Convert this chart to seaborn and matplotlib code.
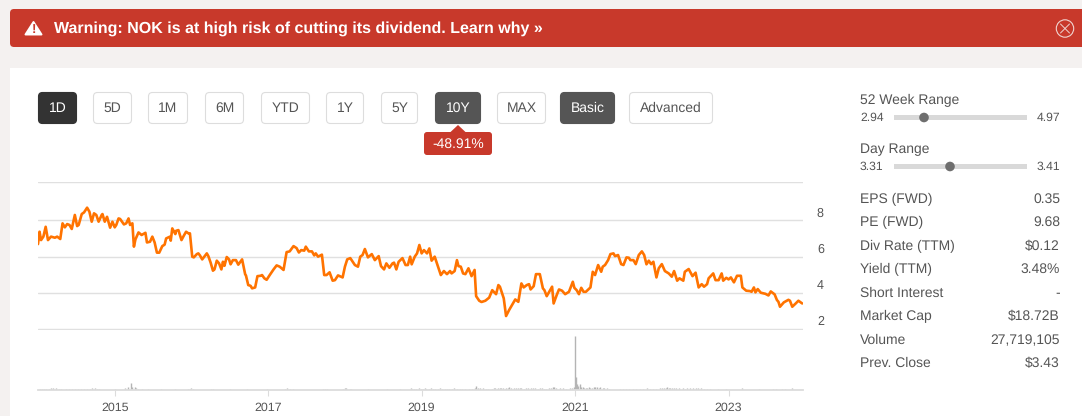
import matplotlib
matplotlib.use('Agg')
import matplotlib.pyplot as plt
from matplotlib.patches import FancyBboxPatch, Polygon, Circle, Rectangle
import seaborn as sns

sns.set_theme(style='white')
plt.rcParams['font.family'] = ['Liberation Sans', 'DejaVu Sans']
plt.rcParams['text.hinting'] = 'no_hinting'

# Precio NOK, lectura aproximada del grafico
price_years = [
    2014.00, 2014.02, 2014.04, 2014.07, 2014.10, 2014.13, 2014.17, 2014.22, 2014.25, 2014.29, 2014.32, 2014.35,
    2014.38, 2014.41, 2014.44, 2014.48, 2014.51, 2014.53, 2014.57, 2014.60, 2014.64, 2014.67, 2014.70, 2014.73,
    2014.76, 2014.79, 2014.83, 2014.84, 2014.87, 2014.90, 2014.94, 2014.97, 2015.00, 2015.02, 2015.05, 2015.07,
    2015.12, 2015.15, 2015.18, 2015.20, 2015.23, 2015.25, 2015.27, 2015.31, 2015.35, 2015.40, 2015.42, 2015.46,
    2015.49, 2015.52, 2015.55, 2015.58, 2015.62, 2015.65, 2015.67, 2015.72, 2015.73, 2015.75, 2015.79, 2015.80,
    2015.83, 2015.87, 2015.90, 2015.93, 2015.96, 2015.98, 2016.01, 2016.03, 2016.07, 2016.09, 2016.11, 2016.14,
    2016.20, 2016.22, 2016.25, 2016.28, 2016.30, 2016.33, 2016.36, 2016.39, 2016.41, 2016.43, 2016.46, 2016.49,
    2016.51, 2016.54, 2016.58, 2016.61, 2016.66, 2016.70, 2016.71, 2016.74, 2016.77, 2016.79, 2016.83, 2016.86,
    2016.90, 2016.92, 2016.95, 2016.98, 2017.02, 2017.07, 2017.11, 2017.15, 2017.20, 2017.24, 2017.28, 2017.33,
    2017.37, 2017.40, 2017.43, 2017.47, 2017.49, 2017.53, 2017.57, 2017.60, 2017.62, 2017.65, 2017.70, 2017.73,
    2017.76, 2017.80, 2017.84, 2017.87, 2017.91, 2017.97, 2018.00, 2018.03, 2018.07, 2018.13, 2018.17, 2018.20,
    2018.23, 2018.26, 2018.30, 2018.35, 2018.39, 2018.44, 2018.47, 2018.51, 2018.54, 2018.58, 2018.62, 2018.64,
    2018.67, 2018.70, 2018.75, 2018.79, 2018.82, 2018.85, 2018.87, 2018.91, 2018.94, 2018.97, 2019.00, 2019.03,
    2019.07, 2019.10, 2019.13, 2019.17, 2019.22, 2019.25, 2019.29, 2019.33, 2019.37, 2019.39, 2019.43, 2019.46,
    2019.48, 2019.51, 2019.54, 2019.57, 2019.61, 2019.65, 2019.69, 2019.71, 2019.75, 2019.78, 2019.83, 2019.88,
    2019.92, 2019.97, 2020.00, 2020.02, 2020.07, 2020.10, 2020.14, 2020.19, 2020.22, 2020.26, 2020.30, 2020.33,
    2020.37, 2020.40, 2020.42, 2020.46, 2020.49, 2020.54, 2020.58, 2020.60, 2020.63, 2020.70, 2020.72, 2020.76,
    2020.79, 2020.83, 2020.87, 2020.92, 2020.97, 2020.99, 2021.02, 2021.05, 2021.08, 2021.11, 2021.14, 2021.20,
    2021.23, 2021.26, 2021.30, 2021.34, 2021.36, 2021.39, 2021.43, 2021.46, 2021.50, 2021.52, 2021.56, 2021.60,
    2021.63, 2021.67, 2021.70, 2021.72, 2021.76, 2021.79, 2021.83, 2021.87, 2021.90, 2021.93, 2021.96, 2021.99,
    2022.02, 2022.06, 2022.09, 2022.13, 2022.17, 2022.22, 2022.26, 2022.29, 2022.33, 2022.36, 2022.41, 2022.43,
    2022.48, 2022.53, 2022.57, 2022.61, 2022.65, 2022.68, 2022.72, 2022.74, 2022.80, 2022.83, 2022.87, 2022.91,
    2022.93, 2022.97, 2023.00, 2023.03, 2023.07, 2023.11, 2023.16, 2023.18, 2023.23, 2023.28, 2023.30, 2023.33,
    2023.35, 2023.38, 2023.42, 2023.48, 2023.52, 2023.55, 2023.60, 2023.63, 2023.65, 2023.67, 2023.72, 2023.78,
    2023.80, 2023.83, 2023.87, 2023.91, 2023.96,
]
price_values = [
    6.65, 7.33, 6.87, 7.06, 7.60, 6.87, 7.06, 7.00, 7.06, 6.93, 7.79, 7.57,
    7.75, 7.70, 7.48, 8.25, 7.64, 7.70, 8.30, 8.39, 8.65, 8.43, 7.88, 8.34,
    8.25, 7.88, 8.25, 8.30, 7.88, 8.15, 7.55, 7.88, 7.57, 7.70, 8.06, 8.03,
    7.73, 7.79, 8.06, 7.70, 7.79, 6.51, 6.91, 7.29, 7.15, 7.27, 6.74, 6.78,
    7.06, 6.74, 6.18, 6.18, 6.54, 6.62, 6.96, 7.06, 6.84, 7.51, 7.20, 7.38,
    7.42, 6.87, 7.11, 7.33, 7.24, 7.24, 5.96, 5.92, 6.10, 6.14, 6.03, 5.81,
    6.14, 5.99, 5.63, 5.19, 5.26, 5.74, 5.59, 5.26, 5.68, 5.46, 5.94, 5.81,
    5.54, 5.77, 5.77, 5.52, 5.81, 4.99, 4.93, 4.40, 4.36, 4.22, 4.27, 4.89,
    4.91, 4.95, 4.77, 4.69, 4.95, 5.26, 5.48, 5.41, 5.23, 6.21, 6.25, 6.54,
    6.43, 6.19, 6.32, 6.29, 6.51, 6.25, 6.25, 6.03, 6.14, 5.96, 6.07, 4.95,
    4.95, 5.10, 4.64, 4.67, 4.93, 4.82, 5.41, 5.81, 5.88, 5.50, 5.41, 5.96,
    6.05, 6.38, 5.92, 6.10, 5.77, 5.99, 5.44, 5.26, 5.59, 5.35, 5.59, 5.63,
    5.26, 5.68, 5.88, 5.50, 5.50, 5.96, 5.54, 5.96, 6.14, 6.60, 6.14, 6.32,
    6.14, 6.41, 5.74, 5.96, 5.32, 4.95, 5.17, 5.00, 5.17, 5.04, 5.17, 5.77,
    5.44, 5.41, 5.04, 5.00, 5.32, 4.89, 5.23, 3.79, 3.54, 3.47, 3.54, 3.71,
    4.12, 3.90, 4.40, 4.31, 3.67, 2.70, 3.03, 3.39, 3.61, 3.48, 4.49, 4.27,
    4.40, 4.45, 4.16, 4.34, 5.00, 5.00, 4.22, 4.12, 3.79, 4.31, 3.39, 3.85,
    4.16, 4.09, 3.90, 4.03, 4.58, 4.25, 4.12, 3.90, 4.25, 4.03, 4.03, 4.27,
    5.13, 4.95, 5.50, 5.13, 5.41, 5.50, 5.77, 6.10, 6.14, 5.99, 6.05, 5.55,
    5.50, 5.92, 5.90, 5.77, 5.77, 5.55, 6.05, 6.25, 6.05, 5.54, 5.74, 5.55,
    5.68, 4.82, 5.32, 5.55, 5.17, 5.04, 4.86, 5.17, 4.64, 4.77, 4.64, 5.13,
    5.28, 4.89, 5.08, 4.27, 4.45, 4.31, 4.45, 4.77, 5.04, 4.67, 4.67, 5.04,
    4.64, 4.80, 4.71, 4.82, 4.55, 4.91, 4.91, 4.27, 4.09, 4.07, 4.03, 4.27,
    4.00, 4.18, 3.98, 3.92, 3.83, 4.05, 3.89, 3.58, 3.48, 3.21, 3.45, 3.59,
    3.54, 3.21, 3.37, 3.54, 3.39,
]

# Volumen en millones, tambien estimado a ojo
vol_years = [
    2014.02, 2014.05, 2014.08, 2014.11, 2014.14, 2014.17, 2014.20, 2014.24, 2014.27, 2014.30, 2014.36, 2014.40,
    2014.44, 2014.48, 2014.52, 2014.56, 2014.60, 2014.64, 2014.68, 2014.71, 2014.74, 2014.77, 2014.80, 2015.00,
    2015.13, 2015.17, 2015.21, 2015.23, 2015.26, 2015.28, 2015.30, 2015.36, 2015.43, 2015.60, 2015.78, 2015.96,
    2015.98, 2016.00, 2016.02, 2016.26, 2016.28, 2016.50, 2016.72, 2016.98, 2017.22, 2017.24, 2017.28, 2017.32,
    2017.72, 2017.74, 2017.77, 2017.98, 2018.00, 2018.02, 2018.06, 2018.08, 2018.30, 2018.55, 2018.72, 2018.86,
    2018.88, 2018.90, 2018.93, 2018.96, 2018.99, 2019.02, 2019.04, 2019.06, 2019.09, 2019.12, 2019.15, 2019.18,
    2019.21, 2019.24, 2019.27, 2019.30, 2019.33, 2019.36, 2019.39, 2019.42, 2019.46, 2019.50, 2019.53, 2019.56,
    2019.62, 2019.66, 2019.69, 2019.71, 2019.73, 2019.76, 2019.80, 2019.84, 2019.86, 2019.92, 2019.94, 2019.96,
    2019.98, 2020.00, 2020.02, 2020.04, 2020.06, 2020.08, 2020.10, 2020.12, 2020.14, 2020.17, 2020.20, 2020.23,
    2020.26, 2020.28, 2020.30, 2020.33, 2020.36, 2020.39, 2020.42, 2020.45, 2020.48, 2020.51, 2020.54, 2020.57,
    2020.60, 2020.62, 2020.66, 2020.69, 2020.71, 2020.73, 2020.75, 2020.80, 2020.84, 2020.88, 2020.93, 2020.96,
    2020.98, 2021.00, 2021.01, 2021.02, 2021.04, 2021.06, 2021.08, 2021.10, 2021.12, 2021.14, 2021.16, 2021.18,
    2021.20, 2021.22, 2021.24, 2021.26, 2021.29, 2021.31, 2021.33, 2021.36, 2021.38, 2021.41, 2021.44, 2021.58,
    2021.62, 2021.66, 2021.70, 2021.76, 2021.80, 2021.84, 2021.88, 2021.94, 2021.98, 2022.02, 2022.06, 2022.10,
    2022.13, 2022.16, 2022.18, 2022.20, 2022.22, 2022.24, 2022.26, 2022.29, 2022.32, 2022.36, 2022.40, 2022.43,
    2022.46, 2022.50, 2022.54, 2022.57, 2022.60, 2022.64, 2022.68, 2022.72, 2022.76, 2022.86, 2022.97, 2023.18,
    2023.40, 2023.58, 2023.62, 2023.70, 2023.74, 2023.83,
]
vol_values = [
    8, 9, 10, 12, 12, 14, 14, 18, 12, 12, 10, 10,
    9, 10, 10, 9, 9, 10, 12, 14, 20, 12, 8, 10,
    15, 25, 65, 25, 30, 18, 12, 10, 8, 8, 9, 9,
    10, 15, 10, 10, 10, 8, 9, 8, 10, 15, 10, 8,
    8, 10, 8, 12, 18, 14, 10, 10, 8, 8, 8, 14,
    12, 10, 12, 16, 12, 12, 14, 10, 12, 14, 12, 12,
    10, 15, 12, 10, 12, 12, 10, 14, 10, 10, 12, 13,
    10, 12, 16, 40, 20, 18, 14, 12, 10, 12, 14, 18,
    12, 14, 18, 22, 14, 12, 22, 16, 24, 16, 18, 14,
    15, 14, 14, 12, 20, 16, 18, 14, 14, 12, 16, 14,
    10, 10, 14, 20, 30, 24, 22, 16, 14, 10, 18, 20,
    25, 500, 118, 60, 40, 60, 25, 30, 18, 20, 14, 30,
    16, 18, 25, 25, 30, 18, 24, 20, 14, 16, 12, 8,
    8, 9, 9, 10, 10, 12, 10, 14, 12, 12, 12, 14,
    14, 18, 22, 25, 20, 18, 18, 14, 14, 14, 14, 12,
    16, 14, 20, 14, 16, 14, 12, 10, 9, 8, 9, 14,
    8, 9, 8, 8, 8, 15,
]

xtick_years = [2015, 2017, 2019, 2021, 2023]
grid_levels = [2.0, 3.99, 5.96, 7.96, 10.04]
ytick_labels = ['2', '4', '6', '8']

ranges = [('52 Week Range', '2.94', '4.97', 924), ('Day Range', '3.31', '3.41', 950)]
stats = [
    ('EPS (FWD)', '0.35'), ('PE (FWD)', '9.68'), ('Div Rate (TTM)', '$0.12'), ('Yield (TTM)', '3.48%'),
    ('Short Interest', '-'), ('Market Cap', '$18.72B'), ('Volume', '27,719,105'), ('Prev. Close', '$3.43'),
]
buttons = [
    ('1D', 38, 77, '#333333'), ('5D', 93, 132, None), ('1M', 148, 188, None), ('6M', 205, 244, None),
    ('YTD', 261, 310, None), ('1Y', 326, 364, None), ('5Y', 381, 418, None), ('10Y', 435, 481, '#555555'),
    ('MAX', 497, 546, None), ('Basic', 560, 615, '#555555'), ('Advanced', 629, 713, None),
]

RED = '#c8392b'
BG = '#f4f1f0'
TXT = '#555555'
W, H = 1082, 416

fig = plt.figure(figsize=(W / 100, H / 100), dpi=100, facecolor=BG)


def axes_px(x0, x1, y0, y1):
    return fig.add_axes([x0 / W, 1 - y1 / H, (x1 - x0) / W, (y1 - y0) / H])


# capa de la pagina, en pixeles
ui = fig.add_axes([0, 0, 1, 1], zorder=0)
ui.set_xlim(0, W)
ui.set_ylim(H, 0)
ui.axis('off')

ui.add_patch(Rectangle((10, 68), W - 10, H - 68, fc='white', ec='none'))
ui.add_patch(FancyBboxPatch((10, 9), W, 38, boxstyle='round,pad=0,rounding_size=4', fc=RED, ec='none'))
ui.add_patch(Polygon([(33.5, 22), (41.5, 34.5), (25.5, 34.5)], closed=True, fc='white', ec='white', lw=1.4, joinstyle='round'))
ui.text(33.5, 29.3, '!', color=RED, fontsize=9.5, fontweight='bold', ha='center', va='center')
ui.text(54, 28.5, 'Warning: NOK is at high risk of cutting its dividend. Learn why »', color='white',
        fontsize=11.55, fontweight='bold', va='center')
ui.add_patch(Circle((1065, 28.5), 8.7, fc='none', ec='#f0d5d0', lw=0.8))
ui.plot([1060.5, 1069.5], [24, 33], color='#f0d5d0', lw=0.7)
ui.plot([1060.5, 1069.5], [33, 24], color='#f0d5d0', lw=0.7)

for label, x0, x1, fill in buttons:
    ui.add_patch(FancyBboxPatch((x0 + 0.5, 92.5), x1 - x0 - 1, 31, boxstyle='round,pad=0,rounding_size=4',
                                fc=fill or 'white', ec=fill or '#dddddd', lw=0.8))
    ui.text((x0 + x1) / 2, 108.5, label, color='white' if fill else TXT, fontsize=10, ha='center', va='center')

# etiqueta del 10Y
ui.add_patch(Polygon([(450, 132.5), (458, 125), (466, 132.5)], closed=True, fc=RED, ec='none'))
ui.add_patch(FancyBboxPatch((424, 132), 68, 23, boxstyle='round,pad=0,rounding_size=3', fc=RED, ec='none'))
ui.text(458, 144.5, '-48.91%', color='white', fontsize=10, ha='center', va='center')

# panel derecho
for i, (name, low, high, knob) in enumerate(ranges):
    y = 100 + i * 49
    ui.text(860, y + 0.7, name, color=TXT, fontsize=10, va='center')
    ui.text(860, y + 17.9, low, color=TXT, fontsize=8.7, va='center')
    ui.text(1060, y + 17.9, high, color=TXT, fontsize=8.7, va='center', ha='right')
    ui.add_patch(Rectangle((894, y + 15), 133, 5, fc='#d9d9d9', ec='none'))
    ui.add_patch(Circle((knob, y + 17.5), 4.8, fc='#6e6e6e', ec='none'))

stat_rows = [199, 222, 246, 269, 293, 316, 340, 363]
for (name, val), y in zip(stats, stat_rows):
    ui.text(860, y + 0.7, name, color=TXT, fontsize=10, va='center')
    ui.text(1060, y + 0.7, val, color=TXT, fontsize=10, va='center', ha='right')

# precio
ax = axes_px(38, 803, 182, 329.5)
ax.patch.set_alpha(0)
ax.set_xlim(2014.0, 2023.97)
ax.set_ylim(1.96, 10.06)
for level in grid_levels:
    ax.axhline(level, color='#e0e0e0', lw=1.0, zorder=1)
sns.lineplot(x=price_years, y=price_values, ax=ax, color='#ff7300', linewidth=1.9, sort=False,
             estimator=None, errorbar=None, zorder=3)
ax.set_xticks([])
ax.set_yticks([])
sns.despine(ax=ax, left=True, bottom=True)

for label, level in zip(ytick_labels, grid_levels):
    ax.annotate(label, (1, level), xycoords=('axes fraction', 'data'), xytext=(12.5, 0.6), textcoords='offset points',
                color=TXT, fontsize=9, ha='center', va='bottom', annotation_clip=False)

# volumen
ax_vol = axes_px(38, 803, 336, 390)
ax_vol.patch.set_alpha(0)
ax_vol.set_xlim(2014.0, 2023.97)
ax_vol.set_ylim(0, 500)
ax_vol.vlines(vol_years, 0, vol_values, color='#b4b4b4', lw=1.0)
ax_vol.set_yticks([])
ax_vol.set_xticks(xtick_years)
ax_vol.set_xticklabels([str(y) for y in xtick_years], color=TXT, fontsize=8.9)
ax_vol.tick_params(axis='x', length=4, width=0.8, color='#dcdcdc', pad=4.5, bottom=True)
sns.despine(ax=ax_vol, left=True)
ax_vol.spines['bottom'].set_color('#dcdcdc')
ax_vol.spines['bottom'].set_linewidth(1.3)

fig.savefig('out.png', dpi=100, facecolor=BG)
